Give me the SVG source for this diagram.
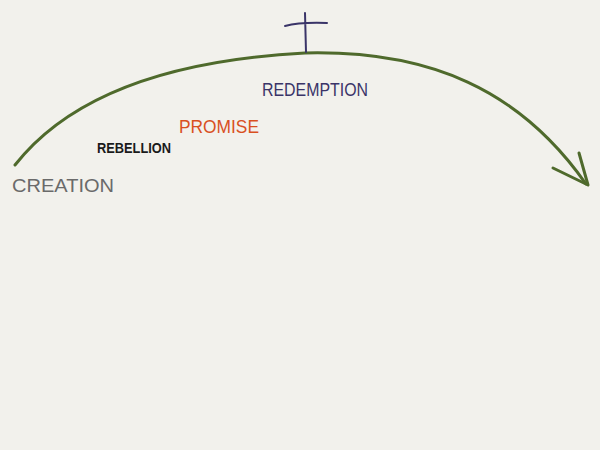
<svg xmlns="http://www.w3.org/2000/svg" width="600" height="450" viewBox="0 0 600 450">
<style>
.t{font-family:"Liberation Sans",Arial,sans-serif;}
.arc{fill:none;stroke:#4f6a2c;stroke-width:3;stroke-linecap:round;stroke-linejoin:round;}
.cross{stroke:#3a3468;stroke-width:2;stroke-linecap:round;fill:none;}
</style>
<rect width="600" height="450" fill="#f2f1ec"/>
<g id="connectors">
<path class="arc" d="M15,165 C70,95 170,60 305,53 C430,50 520,90 586,184"/>
<path class="arc" d="M553,168 L588,185 L579,153" stroke-width="2.2"/>
</g>
<g id="cross">
<path class="cross" d="M305,13 L306,52 M285,26 Q300,22 327,23"/>
</g>
<g id="creation">
<text class="t" x="12" y="192" font-size="19" fill="#6a6a6a" textLength="102" lengthAdjust="spacingAndGlyphs">CREATION</text>
</g>
<g id="rebellion">
<text class="t" x="97" y="153" font-size="14" fill="#1a1a1a" textLength="74" lengthAdjust="spacingAndGlyphs" font-weight="bold">REBELLION</text>
</g>
<g id="promise">
<text class="t" x="179" y="133" font-size="18" fill="#d9501f" textLength="80" lengthAdjust="spacingAndGlyphs">PROMISE</text>
</g>
<g id="redemption">
<text class="t" x="262" y="96" font-size="18" fill="#3a3468" textLength="106" lengthAdjust="spacingAndGlyphs">REDEMPTION</text>
</g>
</svg>
